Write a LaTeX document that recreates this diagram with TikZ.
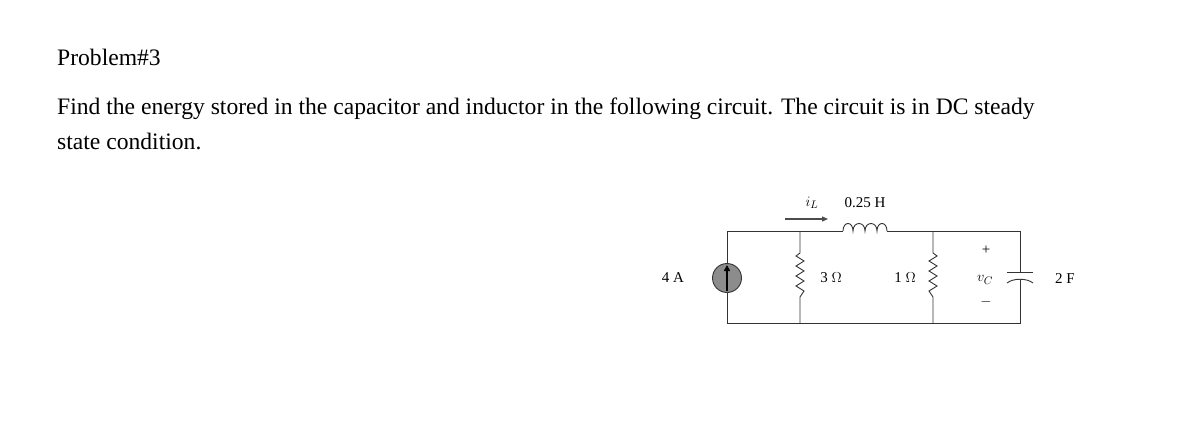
\documentclass[tikz,border=0pt]{standalone}
\usepackage{fontspec}
\setmainfont{Liberation Serif}
\usetikzlibrary{arrows.meta,decorations.pathmorphing}
\begin{document}
\begin{tikzpicture}[x=1pt,y=-1pt,
  wire/.style={line width=0.9pt,black!80},
  lbl/.style={font=\fontsize{15}{15}\selectfont,inner sep=0pt},
  txt/.style={font=\fontsize{23.6}{23.6}\selectfont,anchor=west,inner sep=0pt}]
\useasboundingbox (0,0) rectangle (1192,423);
\node[txt] (t1) at (57,57) {Problem\#3};
\node[txt] (t2) at (57,109) {Find the energy stored in the capacitor and inductor in the following circuit. The circuit is in DC steady};
\node[txt] (t3) at (57,141) {state condition.};
% corners
\coordinate (tl) at (727,231); \coordinate (bl) at (727,323);
\coordinate (t3o) at (800,231); \coordinate (b3o) at (800,323);
\coordinate (t1o) at (933,231); \coordinate (b1o) at (933,323);
\coordinate (tr) at (1020,231); \coordinate (br) at (1020,323);
\coordinate (la) at (843,231); \coordinate (lb) at (887,231);
% source
\node[circle,draw=black!80,line width=0.9pt,fill=black!45,minimum size=29pt,inner sep=0pt] (src) at (727,278) {};
\draw[line width=1.6pt,-{Triangle[length=6pt,width=6pt]}] (727,291) -- (727,265);
\draw[wire] (src.north) -- (tl) -- (la);
\draw[wire] (lb) -- (tr) -- (1020,272);
\draw[wire] (1020,279) -- (br) -- (bl) -- (src.south);
% inductor
\draw[wire] (la) .. controls (843,221) and (853,221) .. (853,231)
  .. controls (853,221) and (865,221) .. (865,231)
  .. controls (865,221) and (877,221) .. (877,231)
  .. controls (877,221) and (887,221) .. (887,231);
% resistors
\draw[wire] (t3o) -- (800,253) -- (796,256) -- (804,261) -- (796,266) -- (804,271) -- (796,276) -- (804,281) -- (796,286) -- (804,291) -- (800,297) -- (b3o);
\draw[wire] (t1o) -- (933,253) -- (937,256) -- (929,261) -- (937,266) -- (929,271) -- (937,276) -- (929,281) -- (937,286) -- (929,291) -- (933,297) -- (b1o);
% capacitor
\draw[wire] (1007,272) -- (1033,272);
\draw[wire] (1007,283) .. controls (1013,278) and (1027,278) .. (1033,283);
% labels
\node[lbl] (il) at (812,203) {$i_L$};
\draw[line width=1.2pt,black!70,-{Triangle[length=6pt,width=5pt]}] (785,219) -- (828,219);
\node[lbl] (lh) at (865,203) {0.25 H};
\node[lbl] (r3) at (831,278) {3 $\Omega$};
\node[lbl] (r1) at (905,278) {1 $\Omega$};
\node[lbl] (pl) at (986,250) {+};
\node[lbl] (vc) at (985,280) {$v_C$};
\node[lbl] (mi) at (986,302) {$-$};
\node[lbl] (cf) at (1065,279) {2 F};
\node[lbl] (sa) at (673,278) {4 A};
\end{tikzpicture}
\end{document}
